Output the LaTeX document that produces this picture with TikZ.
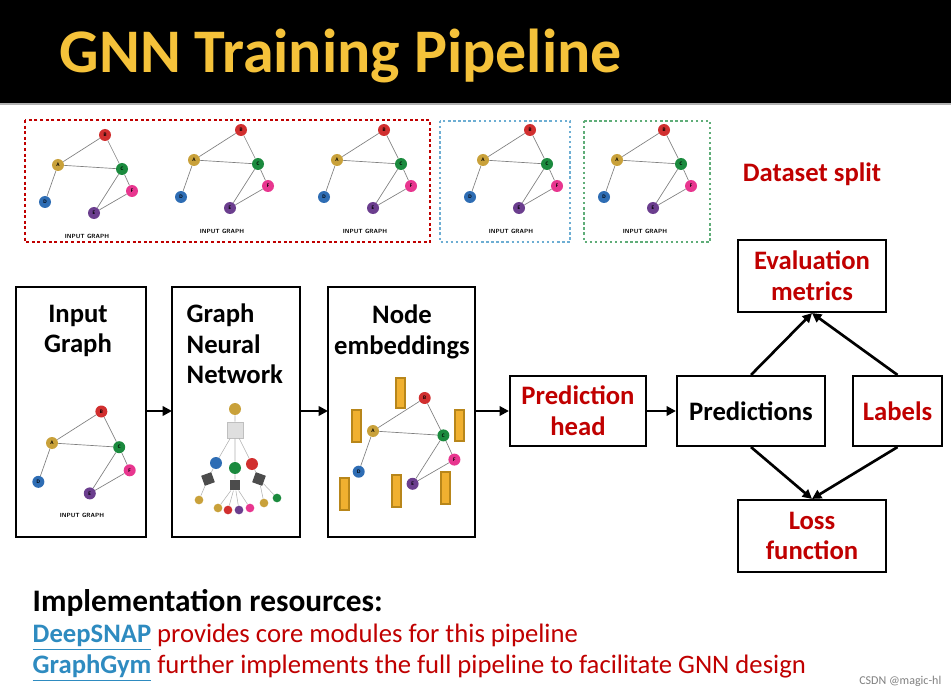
\documentclass[tikz,border=0pt]{standalone}
\usepackage{fontspec}
\setmainfont{Carlito}
\usetikzlibrary{arrows.meta}
\definecolor{gA}{HTML}{C9A13A}\definecolor{gB}{HTML}{D12F2F}\definecolor{gC}{HTML}{1B8A3E}
\definecolor{gD}{HTML}{2E6DB4}\definecolor{gE}{HTML}{6B3E8E}\definecolor{gF}{HTML}{E8368F}
\definecolor{dred}{HTML}{C00000}\definecolor{link}{HTML}{2E8BC0}\definecolor{titley}{HTML}{F5C23A}
\definecolor{bar}{HTML}{F0B030}\definecolor{barb}{HTML}{B8861A}
\tikzset{
 gn/.style={circle,inner sep=0pt,minimum size=12*0.75pt,fill=#1,text=black,font=\fontsize{4}{4}\selectfont\bfseries},
 ge/.style={draw=gray,line width=0.5pt},
 graphpic/.pic={
  \node[gn=gA] (-A) at (0,0) {A};
  \node[gn=gB] (-B) at (47,-30) {B};
  \node[gn=gC] (-C) at (64,4) {C};
  \node[gn=gF] (-F) at (74,26) {F};
  \node[gn=gE] (-E) at (36,48) {E};
  \node[gn=gD] (-D) at (-13,37) {D};
  \draw[ge] (-A)--(-B) (-A)--(-C) (-B)--(-C) (-A)--(-D) (-C)--(-E) (-C)--(-F) (-E)--(-F);
 },
 glabel/.style={font=\fontsize{4.5}{5}\selectfont\sffamily\bfseries},
 box/.style={draw=black,line width=1.6pt,fill=white},
 btxt/.style={font=\fontsize{20}{23}\selectfont\bfseries,align=center},
 arr/.style={-{Triangle[length=7pt,width=7pt]},line width=2pt},
 ybar/.style={fill=bar,draw=barb,line width=1pt},
}
\begin{document}
\begin{tikzpicture}[x=0.75pt,y=-0.75pt]
\useasboundingbox (0,0) rectangle (951,699);
\fill[white] (0,0) rectangle (951,699);
\fill[black] (0,0) rectangle (951,103);
\draw[gray!60,line width=1pt] (0,104)--(951,104);
\node[text=titley,font=\fontsize{46.5}{50}\selectfont\bfseries,anchor=west] (title) at (55,56) {GNN Training Pipeline};
% dataset split
\draw[dred,dotted,line width=2.2pt] (25,120) rectangle (430,242);
\draw[link!70,dotted,line width=1.8pt] (440,121) rectangle (570,242);
\draw[gC!70,dotted,line width=1.8pt] (584,121) rectangle (710,242);
\pic (g1) at (58,165) {graphpic};
\pic (g2) at (194,160) {graphpic};
\pic (g3) at (337,160) {graphpic};
\pic (g4) at (483,160) {graphpic};
\pic (g5) at (617,160) {graphpic};
\node[glabel] (l1) at (87,236) {INPUT GRAPH};
\node[glabel] (l2) at (222,231) {INPUT GRAPH};
\node[glabel] (l3) at (365,231) {INPUT GRAPH};
\node[glabel] (l4) at (511,231) {INPUT GRAPH};
\node[glabel] (l5) at (645,231) {INPUT GRAPH};
\node[text=dred,font=\fontsize{20}{22}\selectfont\bfseries] (ds) at (812,174) {Dataset split};
% main boxes
\draw[box] (16,287) rectangle (146,537);
\node[btxt,anchor=north] (t1) at (78,300) {Input\\Graph};
\pic[scale=1.05] (ig) at (52,443) {graphpic};
\node[glabel] (l6) at (82,515) {INPUT GRAPH};
\draw[box] (172,287) rectangle (300,537);
\node[btxt,anchor=north west,align=left] (t2) at (182,299) {Graph\\Neural\\Network};
% gnn tree
\node[gn=gA] (r) at (235,409) {};
\node[fill=gray!25,draw=gray!50,minimum size=12pt,inner sep=0pt] (sq) at (235,430) {};
\node[gn=gD] (n1) at (216,463) {};
\node[gn=gC] (n2) at (235,468) {};
\node[gn=gB] (n3) at (252,464) {};
\draw[gray!60] (r)--(sq) (sq)--(n1) (sq)--(n2) (sq)--(n3);
\node[fill=black!70,minimum size=8pt,inner sep=0pt,rotate=20] (s1) at (208,479) {};
\node[fill=black!70,minimum size=8pt,inner sep=0pt] (s2) at (235,485) {};
\node[fill=black!70,minimum size=8pt,inner sep=0pt,rotate=-20] (s3) at (259,479) {};
\draw[gray!60] (n1)--(s1) (n2)--(s2) (n3)--(s3);
\foreach \n/\c/\x/\y/\p in {a/gA/199/500/s1,b/gA/218/508/s2,c/gB/228/510/s2,d/gE/239/510/s2,e/gF/250/508/s2,f/gA/264/503/s3,g/gC/277/498/s3}{
 \node[gn=\c,minimum size=6.5pt] (leaf\n) at (\x,\y) {};
 \draw[gray!60] (\p)--(leaf\n);}
\draw[box] (328,287) rectangle (475,537);
\node[btxt,anchor=north] (t3) at (402,300) {Node\\embeddings};
\pic[scale=1.1] (eg) at (373,431) {graphpic};
\draw[ybar] (396,378) rectangle (405,408);
\draw[ybar] (352,410) rectangle (361,442);
\draw[ybar] (455,410) rectangle (464,441);
\draw[ybar] (340,478) rectangle (349,510);
\draw[ybar] (392,475) rectangle (401,507);
\draw[ybar] (441,472) rectangle (450,504);
\node[box,minimum width=136*0.75pt,minimum height=70*0.75pt,btxt,text=dred] (ph) at (578,411) {Prediction\\head};
\node[box,minimum width=148*0.75pt,minimum height=70*0.75pt,btxt] (pr) at (751,411) {Predictions};
\node[box,minimum width=89*0.75pt,minimum height=70*0.75pt,btxt,text=dred] (lb) at (897.5,411) {Labels};
\node[box,minimum width=148*0.75pt,minimum height=72*0.75pt,btxt,text=dred] (em) at (812,276) {Evaluation\\metrics};
\node[box,minimum width=148*0.75pt,minimum height=72*0.75pt,btxt,text=dred] (lf) at (812,536) {Loss\\function};
\coordinate (b1e) at (146,411);\coordinate (b2w) at (172,411);
\coordinate (b2e) at (300,411);\coordinate (b3w) at (328,411);
\coordinate (b3e) at (475,411);
\draw[arr] (b1e)--(b2w);
\draw[arr] (b2e)--(b3w);
\draw[arr] (b3e)--(ph.west);
\draw[arr] (ph)--(pr);
\draw[arr] (pr.north)--(em.south);
\draw[arr] (lb.north)--(em.south);
\draw[arr] (pr.south)--(lf.north);
\draw[arr] (lb.south)--(lf.north);
% bottom
\node[anchor=west,font=\fontsize{23.5}{26}\selectfont\bfseries] (ir) at (28,603) {Implementation resources:};
\node[anchor=west,font=\fontsize{20}{22}\selectfont,text=dred] (r1) at (28,637) {\textcolor{link}{\bfseries\underline{DeepSNAP}} provides core modules for this pipeline};
\node[anchor=west,font=\fontsize{20}{22}\selectfont,text=dred] (r2) at (28,668) {\textcolor{link}{\bfseries\underline{GraphGym}} further implements the full pipeline to facilitate GNN design};
\node[anchor=east,font=\fontsize{9}{10}\selectfont,text=gray] (cs) at (946,681) {CSDN @magic-hl};
\end{tikzpicture}
\end{document}
